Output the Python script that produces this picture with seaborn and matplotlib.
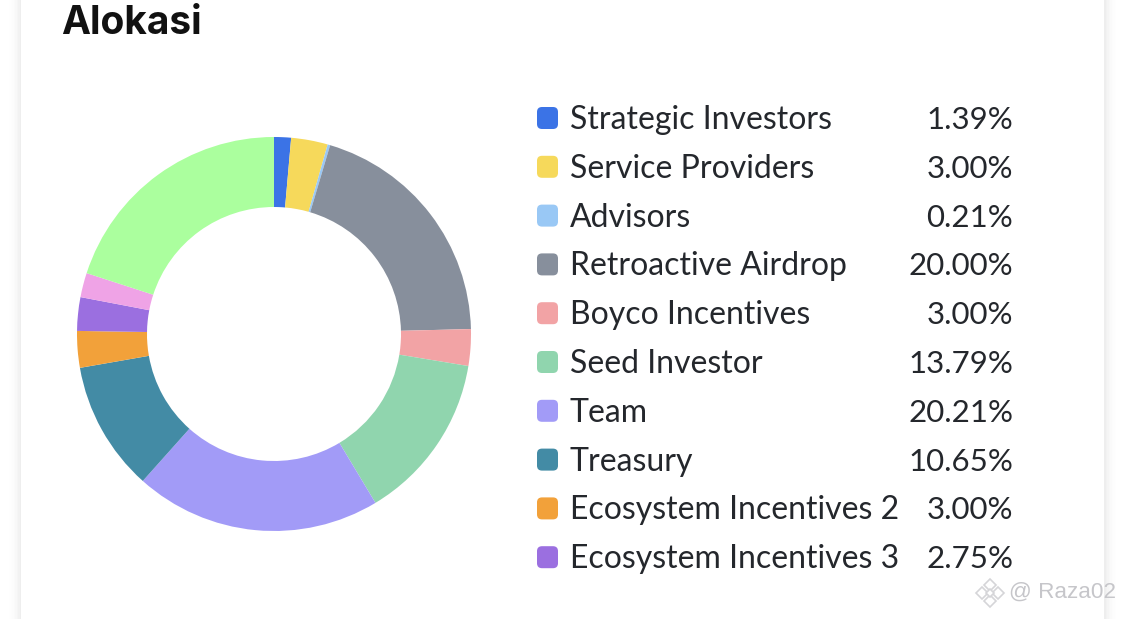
import matplotlib
matplotlib.use("Agg")
import matplotlib.pyplot as plt
from matplotlib.patches import Rectangle, FancyBboxPatch
import seaborn as sns

sns.set_theme(style="white")
plt.rcParams['font.family'] = ['Open Sans', 'DejaVu Sans']

title = "Alokasi"
legend_names = ["Strategic Investors", "Service Providers", "Advisors", "Retroactive Airdrop",
                "Boyco Incentives", "Seed Investor", "Team", "Treasury",
                "Ecosystem Incentives 2", "Ecosystem Incentives 3"]
legend_values = ["1.39%", "3.00%", "0.21%", "20.00%", "3.00%", "13.79%", "20.21%", "10.65%", "3.00%", "2.75%"]
slice_values = [1.39, 3.00, 0.21, 20.00, 3.00, 13.79, 20.21, 10.65, 3.00, 2.75, 2.0, 20.0]
slice_colors = ["#3B73E6", "#F6D95B", "#99C8F5", "#878F9C", "#F2A3A5", "#90D5AE", "#A29BF7", "#438BA5",
                "#F2A13A", "#9B6FE0", "#EFA3E6", "#ABFF9E"]
watermark = "@ Raza02"

W, H = 1124, 619
fig = plt.figure(figsize=(W / 100, H / 100), dpi=100)
bg = fig.add_axes([0, 0, 1, 1])
bg.set_xlim(0, W); bg.set_ylim(H, 0); bg.axis("off")
bg.set_facecolor("white")
# card with soft shadow
for i, a in zip(range(8, 0, -1), [.003, .004, .005, .006, .008, .01, .012, .015]):
    bg.add_patch(Rectangle((21 - i * 1.5, -5), 1083 + i * 3, H + 10, fc="black", ec="none", alpha=a))
bg.add_patch(Rectangle((21, -5), 1083, H + 10, fc="white", ec="none"))

bg.text(61, 24, title, fontsize=28, fontweight="bold", color="#111111", va="center", ha="left",
        family=["Inter", "DejaVu Sans"])

# donut
cx, cy, R = 274, 334, 197
ax = fig.add_axes([(cx - R) / W, 1 - (cy + R) / H, 2 * R / W, 2 * R / H])
ax.pie(slice_values, colors=slice_colors, startangle=90, counterclock=False, radius=1,
       wedgeprops=dict(width=1 - 127 / 197, linewidth=0))
ax.set_xlim(-1, 1); ax.set_ylim(-1, 1)

# legend
y0, dy = 118, 48.8
for i, (n, v) in enumerate(zip(legend_names, legend_values)):
    y = y0 + i * dy
    bg.add_patch(FancyBboxPatch((537, y - 11), 21, 22, boxstyle="round,pad=0,rounding_size=5",
                                fc=slice_colors[i], ec="none"))
    bg.text(570, y + 2, n, fontsize=23, color="#24272C", va="center", ha="left", family=["Lato", "DejaVu Sans"])
    bg.text(1013, y + 2, v, fontsize=22.5, color="#24272C", va="center", ha="right", family=["Lato", "DejaVu Sans"])

# watermark: diamond logo and handle
for dx, dy_, s in [(0, -8, 6), (-8, 0, 6), (8, 0, 6), (0, 8, 6)]:
    bg.plot(990 + dx, 593 + dy_, marker="D", ms=s, mfc="white", mec="#D5D5D8", mew=1.2)
bg.plot(990, 593, marker="D", ms=4, mfc="white", mec="#D5D5D8", mew=1.2)
bg.set_xlim(0, W); bg.set_ylim(H, 0)
bg.text(1009, 592, watermark, fontsize=16.2, color="#C6C6CA", va="center", ha="left",
        family=["Liberation Sans", "DejaVu Sans"])

fig.savefig("out.png", dpi=100, facecolor="white")
